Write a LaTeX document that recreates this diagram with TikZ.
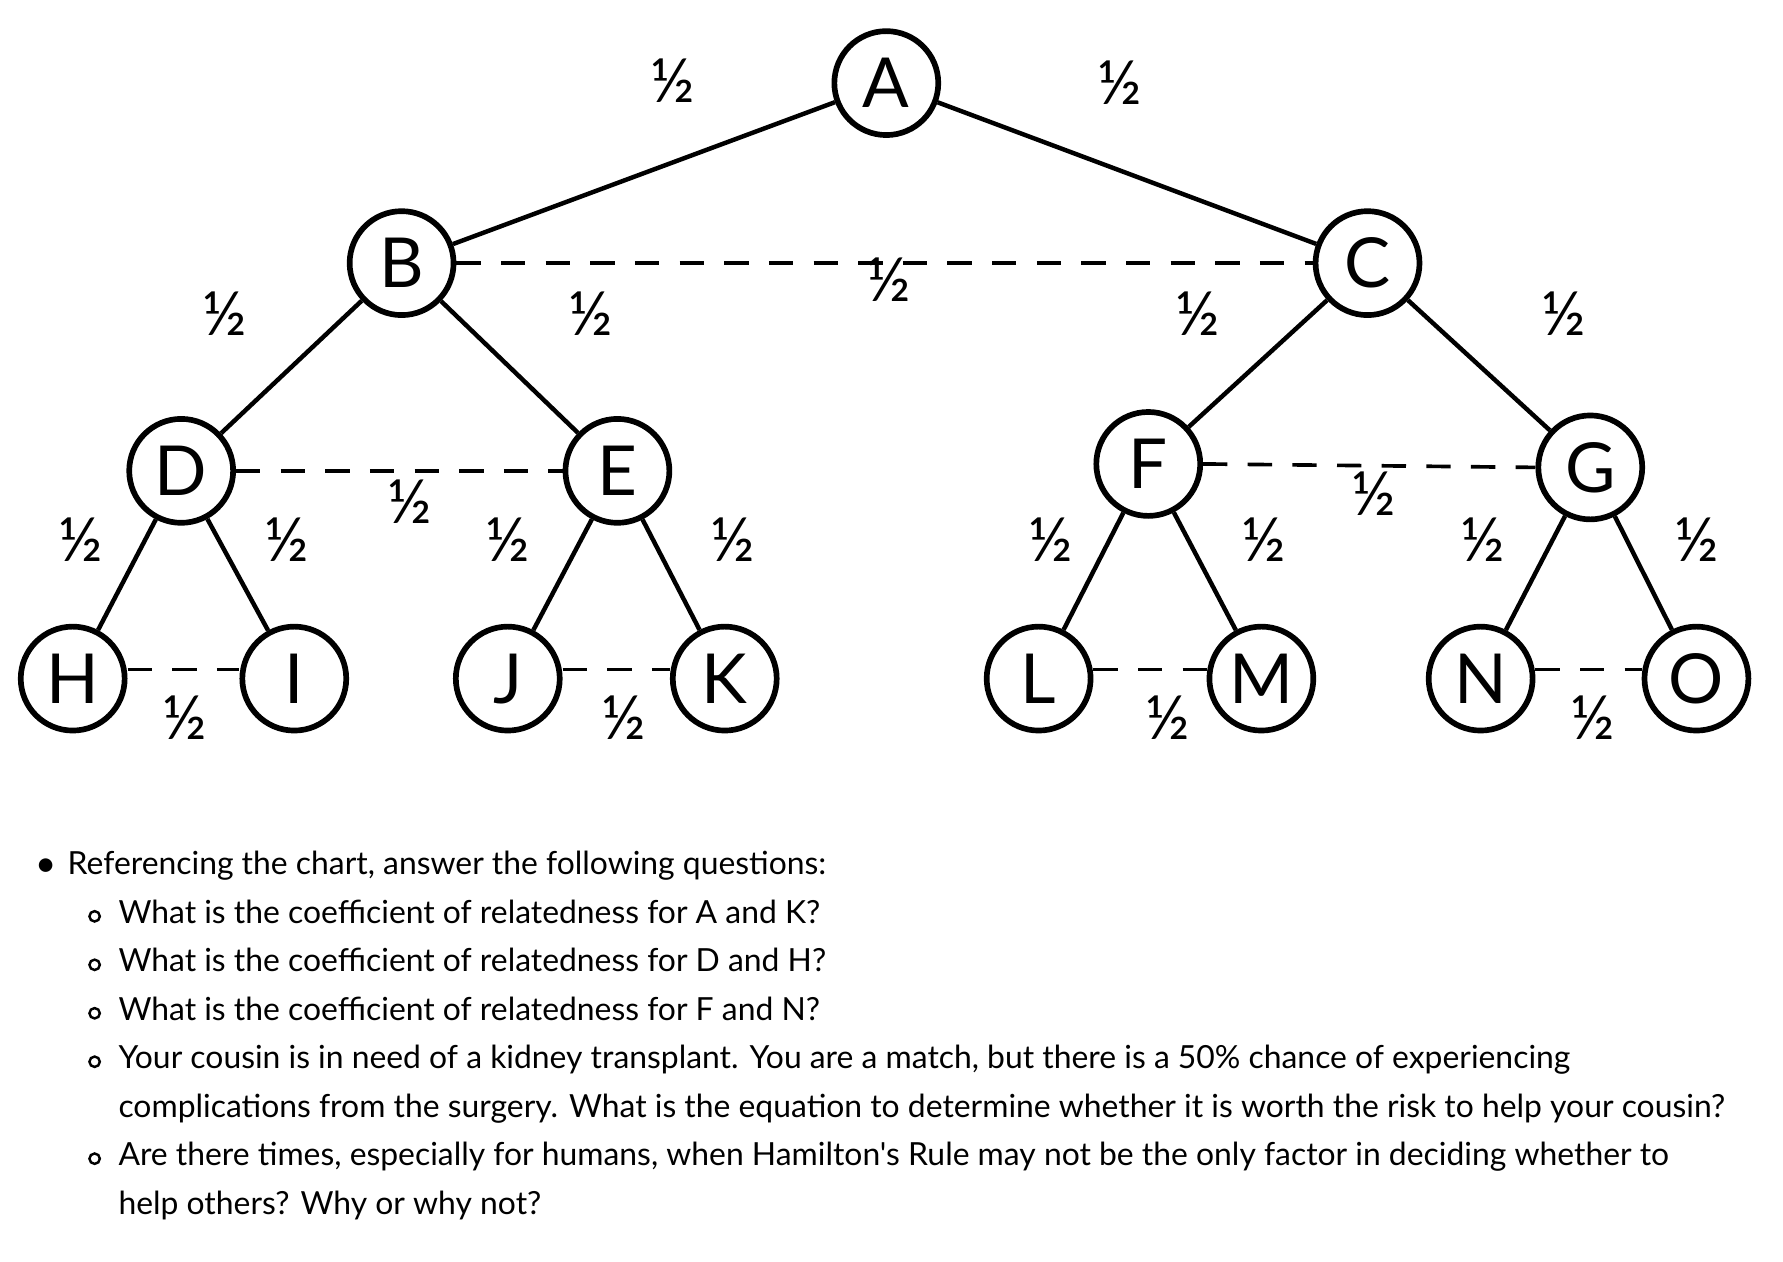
\documentclass[tikz,border=0pt]{standalone}
\usepackage{fontspec}
\setmainfont{Lato}[Ligatures=TeXOff]
\begin{document}
\begin{tikzpicture}[x=0.01cm,y=-0.01cm,
  pn/.style={circle,draw,line width=1.4pt,minimum size=0.9cm,inner sep=0pt,font=\fontsize{17}{17}\selectfont},
  hf/.style={font=\fontsize{15}{15}\selectfont,inner sep=0pt},
  ln/.style={line width=1.1pt},
  dl/.style={line width=0.9pt,dash pattern=on 6pt off 5pt},
  tx/.style={anchor=base west,inner sep=0pt,font=\fontsize{7.85}{9}\selectfont}]
\useasboundingbox (0,0) rectangle (1545,1093);
\foreach \n/\x/\y in {A/768/72,B/348/228,C/1185/228,D/157/408,E/535/408,F/995/402,G/1378/405,
  H/63/588,I/255/588,J/440/588,K/628/588,L/900/588,M/1093/588,N/1283/588,O/1470/588}
  \node[pn] (\n) at (\x,\y) {\n};
\draw[ln] (A)--(B); \draw[ln] (A)--(C);
\draw[ln] (B)--(D); \draw[ln] (B)--(E);
\draw[ln] (C)--(F); \draw[ln] (C)--(G);
\draw[ln] (D)--(H); \draw[ln] (D)--(I);
\draw[ln] (E)--(J); \draw[ln] (E)--(K);
\draw[ln] (F)--(L); \draw[ln] (F)--(M);
\draw[ln] (G)--(N); \draw[ln] (G)--(O);
\draw[dl] (B.east)--(C.west);
\foreach \a/\b in {D/E,F/G}
  \draw[dl] (\a.east)--(\b.west);
\foreach \a/\b in {H/I,J/K,L/M,N/O}
  \draw[dl] ([yshift=0.08cm]\a.east)--([yshift=0.08cm]\b.west);
\foreach \x/\y [count=\i] in {583/70,970/72,195/272,512/272,770/242,1038/272,1355/272,355/435,1190/428,
  70/468,248/468,440/468,635/468,910/468,1095/468,1285/468,1470/468,160/622,540/622,1012/622,1380/622}
  \node[hf] (h\i) at (\x,\y) {½};
\node[tx] (t0) at (58,758) {Referencing the chart, answer the following questions:};
\node[anchor=center,inner sep=0pt] (b0) at (40,752) {\fontsize{9}{9}\selectfont\textbullet};
\node[tx] (t1) at (102,800) {What is the coefficient of relatedness for A and K?};
\node[tx] (t2) at (102,842) {What is the coefficient of relatedness for D and H?};
\node[tx] (t3) at (102,884) {What is the coefficient of relatedness for F and N?};
\node[tx] (t4) at (102,926) {Your cousin is in need of a kidney transplant. You are a match, but there is a 50\% chance of experiencing};
\node[tx] (t5) at (102,968) {complications from the surgery. What is the equation to determine whether it is worth the risk to help your cousin?};
\node[tx] (t6) at (102,1010) {Are there times, especially for humans, when Hamilton's Rule may not be the only factor in deciding whether to};
\node[tx] (t7) at (102,1052) {help others? Why or why not?};
\foreach \y [count=\i] in {794,836,878,920,1004}
  \draw[line width=0.6pt] (82,\y) circle (0.045cm) coordinate (c\i);
\end{tikzpicture}
\end{document}
